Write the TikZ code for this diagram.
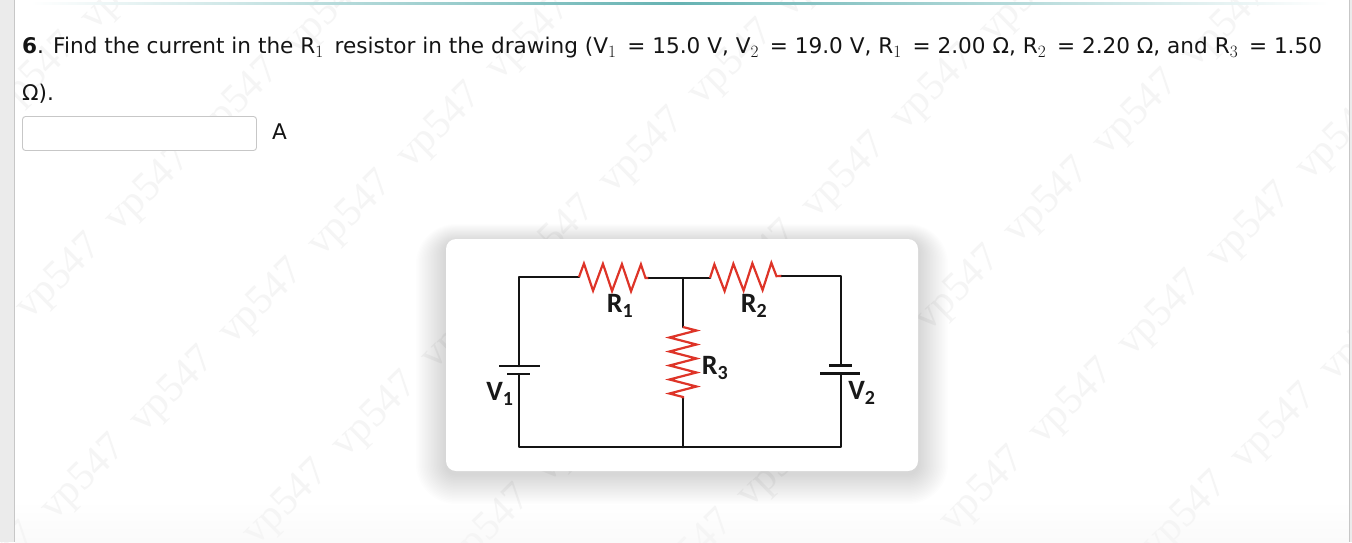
\documentclass[tikz,border=0pt]{standalone}
\usepackage[no-math]{fontspec}
\setmainfont{DejaVu Sans}
\newfontfamily\labelfont{Carlito}
\newfontfamily\markfont{Liberation Serif}
\DeclareMathSizes{21.6}{21.6}{17.5}{12}
\DeclareMathSizes{28}{28}{20}{14}
\newcommand{\qsub}[1]{$_{#1}$\hspace{4pt}}
\definecolor{resred}{RGB}{222,52,40}
\usetikzlibrary{decorations.pathmorphing}

\begin{document}
\begin{tikzpicture}[x=1pt, y=-1pt,
    wire/.style={draw=black!92, line width=2.5pt, line cap=round, line join=round},
    plate/.style={draw=black!92, line width=2.5pt},
    resistor/.style={draw=resred, line width=2.2pt, line join=miter,
        decorate, decoration={zigzag, segment length=#1, amplitude=13.5pt}},
    resistor/.default=19pt,
    question/.style={anchor=base west, inner sep=0pt, text=black!92,
        font=\fontsize{21.6}{25}\selectfont},
    partlabel/.style={inner sep=0pt, text=black!90, font=\labelfont\bfseries\fontsize{28}{30}\selectfont},
    vpmark/.style={rotate=44.5, inner sep=0pt, text=black!4, font=\markfont\fontsize{41}{44}\selectfont}]
    \useasboundingbox (0,0) rectangle (1352,542);
    \fill[white] (0,0) rectangle (1352,542);
    \shade[top color=white, bottom color=black!2, draw=none] (15,500) rectangle (1349,542);
    \foreach \i in {-6,...,14} {
        \foreach \j in {-4,...,8} {
            \pgfmathsetmacro\wx{60+\i*89+\j*113.5}
            \pgfmathsetmacro\wy{278-\i*88+\j*113}
            \pgfmathparse{and(and(\wx>-35,\wx<1387),and(\wy>-35,\wy<577))?1:0}
            \ifnum\pgfmathresult=1
                \node[vpmark] (vp\i\j) at (\wx,\wy) {vp547};
            \fi
        }
    }
    \fill[black!8] (0,0) rectangle (14,542);
    \fill[black!8] (1350,0) rectangle (1352,542);
    \draw[draw=black!22, line width=1pt] (14.5,0) -- (14.5,542);
    \draw[draw=black!22, line width=1pt] (1349.5,0) -- (1349.5,542);
    \shade[left color=white, right color=teal!60] (30,2) rectangle (676,4);
    \shade[left color=teal!60, right color=white] (676,2) rectangle (1330,4);

    \foreach \s in {1,...,20} {
        \fill[black, opacity=0.008, rounded corners={(10+\s*1.5)*1pt}]
            ({446-\s*1.5},{239-\s*0.9+3}) rectangle ({918+\s*1.5},{471+\s*1.5+3});
    }
    \fill[white, rounded corners=10pt] (446,239) rectangle (918,471);

    \node[question] (line1) at (22,53) {\textbf{6}. Find the current in the R\qsub{1} resistor in the drawing (V\qsub{1} = 15.0 V, V\qsub{2} = 19.0 V, R\qsub{1} = 2.00 Ω, R\qsub{2} = 2.20 Ω, and R\qsub{3} = 1.50};
    \node[question] (line2) at (22,100) {Ω).};
    \draw[draw=black!22, fill=white, line width=0.9pt, rounded corners=3pt] (22.5,116.5) rectangle (256.5,150.5);
    \node[question] (unit) at (272,139) {A};

    \coordinate (tl) at (519,277);
    \coordinate (tr) at (841,276);
    \coordinate (bl) at (519,447);
    \coordinate (br) at (841,447);
    \coordinate (top) at (683,278);
    \coordinate (bot) at (683,447);
    \coordinate (r1a) at (579,277);
    \coordinate (r1b) at (649,278);
    \coordinate (r2a) at (710,278);
    \coordinate (r2b) at (782,276);
    \coordinate (r3a) at (683,327);
    \coordinate (r3b) at (683,399);
    \coordinate (v1a) at (519,366);
    \coordinate (v1b) at (519,374);
    \coordinate (v2a) at (841,365.5);
    \coordinate (v2b) at (841,373.5);

    \draw[wire] (v1a) -- (tl) -- (r1a);
    \draw[resistor] (r1a) -- (r1b);
    \draw[wire] (r1b) -- (top) -- (r2a);
    \draw[resistor] (r2a) -- (r2b);
    \draw[wire] (r2b) -- (tr) -- (v2a);
    \draw[wire] (top) -- (r3a);
    \draw[resistor=14pt] (r3a) -- (r3b);
    \draw[wire] (r3b) -- (bot);
    \draw[wire] (v1b) -- (bl) -- (br) -- (v2b);

    \draw[plate] (499,366) -- (v1a) -- (540,366);
    \draw[plate] (507,374) -- (v1b) -- (530,374);
    \draw[plate] (829,365.5) -- (v2a) -- (852,365.5);
    \draw[plate] (820,373.5) -- (v2b) -- (860,373.5);

    \node[partlabel] (R1) at (620,306) {R\textsubscript{1}};
    \node[partlabel] (R2) at (754,306) {R\textsubscript{2}};
    \node[partlabel] (R3) at (715,368) {R\textsubscript{3}};
    \node[partlabel] (V1) at (500,394) {V\textsubscript{1}};
    \node[partlabel] (V2) at (862,393) {V\textsubscript{2}};
\end{tikzpicture}
\end{document}
